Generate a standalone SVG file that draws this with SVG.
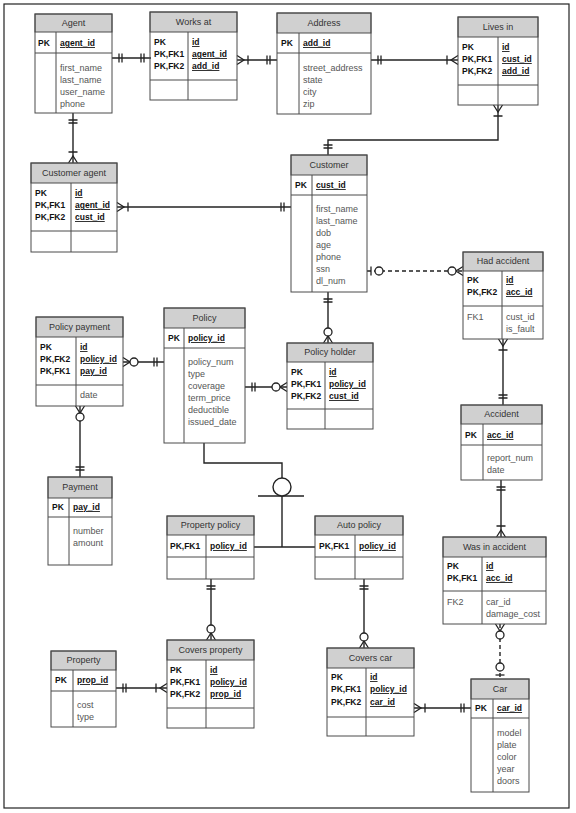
<svg xmlns="http://www.w3.org/2000/svg" width="576" height="813" viewBox="0 0 576 813">
<style>
.hd{fill:#d0d0d0;stroke:#4a4a4a;stroke-width:1}
.bx{fill:none;stroke:#4a4a4a;stroke-width:1}
.ln{fill:none;stroke:#4a4a4a;stroke-width:1}
text{font-family:"Liberation Sans",Arial,sans-serif}
.h{font-size:9px;fill:#333;text-anchor:middle}
.k{font-size:8.5px;font-weight:bold;fill:#111}
.ku{font-size:8.5px;font-weight:bold;fill:#111;text-decoration:underline}
.f{font-size:9px;fill:#555}
.c{fill:none;stroke:#222;stroke-width:1.4}
.d{stroke-dasharray:4 3}
.mk{fill:none;stroke:#222;stroke-width:1.3;stroke-dasharray:none}
.mc{fill:#fff;stroke:#222;stroke-width:1.3;stroke-dasharray:none}
</style>
<defs>
<marker id="oneOne" markerUnits="userSpaceOnUse" orient="auto-start-reverse" viewBox="-20 -10 20 20" refX="0" refY="0" markerWidth="20" markerHeight="20" overflow="visible">
<path class="mk" d="M-7,-4.5V4.5M-10,-4.5V4.5"/>
</marker>
<marker id="manyOne" markerUnits="userSpaceOnUse" orient="auto-start-reverse" viewBox="-20 -10 20 20" refX="0" refY="0" markerWidth="20" markerHeight="20" overflow="visible">
<path class="mk" d="M0,-4.5L-7,0L0,4.5M-11,-4.5V4.5"/>
</marker>
<marker id="manyZero" markerUnits="userSpaceOnUse" orient="auto-start-reverse" viewBox="-20 -10 20 20" refX="0" refY="0" markerWidth="20" markerHeight="20" overflow="visible">
<path class="mk" d="M0,-4.5L-7,0L0,4.5"/>
<circle class="mc" cx="-11" cy="0" r="4"/>
</marker>
<marker id="oneZero" markerUnits="userSpaceOnUse" orient="auto-start-reverse" viewBox="-20 -10 20 20" refX="0" refY="0" markerWidth="20" markerHeight="20" overflow="visible">
<path class="mk" d="M-4,-4.5V4.5"/>
<circle class="mc" cx="-12" cy="0" r="4"/>
</marker>
</defs>
<rect x="0" y="0" width="576" height="813" fill="#fff"/>
<rect x="4" y="4" width="565" height="804" fill="none" stroke="#222" stroke-width="1.2"/>

<g id="connectors">
<path class="c" d="M112,58H151" marker-start="url(#oneOne)" marker-end="url(#oneOne)"/>
<path class="c" d="M237,60H277" marker-start="url(#manyOne)" marker-end="url(#oneOne)"/>
<path class="c" d="M371,60H458" marker-start="url(#oneOne)" marker-end="url(#manyOne)"/>
<path class="c" d="M498,105V140H328V155" marker-start="url(#manyOne)" marker-end="url(#oneOne)"/>
<path class="c" d="M73,113V163" marker-start="url(#oneOne)" marker-end="url(#manyOne)"/>
<path class="c" d="M117,207H291" marker-start="url(#manyOne)" marker-end="url(#oneOne)"/>
<path class="c d" d="M367,271H463" marker-start="url(#oneZero)" marker-end="url(#manyZero)"/>
<path class="c" d="M328,292V343" marker-start="url(#oneOne)" marker-end="url(#manyZero)"/>
<path class="c" d="M245,387H287" marker-start="url(#oneOne)" marker-end="url(#manyZero)"/>
<path class="c" d="M123,362H164" marker-start="url(#manyZero)" marker-end="url(#oneOne)"/>
<path class="c" d="M80,406V477" marker-start="url(#manyZero)" marker-end="url(#oneOne)"/>
<path class="c" d="M503,339V405" marker-start="url(#manyOne)" marker-end="url(#oneOne)"/>
<path class="c" d="M501,480V537" marker-start="url(#oneOne)" marker-end="url(#manyOne)"/>
<path class="c d" d="M500,624V679" marker-start="url(#manyZero)" marker-end="url(#oneZero)"/>
<path class="c" d="M414,708H471" marker-start="url(#manyOne)" marker-end="url(#oneOne)"/>
<path class="c" d="M364,579V648" marker-start="url(#oneOne)" marker-end="url(#manyZero)"/>
<path class="c" d="M211,579V640" marker-start="url(#oneOne)" marker-end="url(#manyZero)"/>
<path class="c" d="M116,688H167" marker-start="url(#oneOne)" marker-end="url(#manyOne)"/>
<path class="c" d="M204,443V463H282V478M258,496H304M282,496V547M254,547H315"/>
<circle cx="282" cy="487" r="9" fill="#fff" stroke="#222" stroke-width="1.4"/>
</g>

<g id="agent">
<rect class="hd" x="35" y="14" width="77" height="18"/>
<rect class="bx" x="35" y="14" width="77" height="99"/>
<path class="ln" d="M35,53H112M56,32V113"/>
<text class="h" x="73.5" y="26">Agent</text>
<text class="k" x="38" y="46">PK</text>
<text class="ku" x="60" y="46">agent_id</text>
<text class="f" x="60" y="71">first_name</text>
<text class="f" x="60" y="83">last_name</text>
<text class="f" x="60" y="95">user_name</text>
<text class="f" x="60" y="107">phone</text>
</g>

<g id="works-at">
<rect class="hd" x="150" y="12" width="87" height="20"/>
<rect class="bx" x="150" y="12" width="87" height="88"/>
<path class="ln" d="M150,80H237M188,32V100"/>
<text class="h" x="193.5" y="25">Works at</text>
<text class="k" x="154" y="45">PK</text>
<text class="k" x="154" y="57">PK,FK1</text>
<text class="k" x="154" y="69">PK,FK2</text>
<text class="ku" x="192" y="45">id</text>
<text class="ku" x="192" y="57">agent_id</text>
<text class="ku" x="192" y="69">add_id</text>
</g>

<g id="address">
<rect class="hd" x="277" y="13" width="94" height="20"/>
<rect class="bx" x="277" y="13" width="94" height="101"/>
<path class="ln" d="M277,53H371M299,33V114"/>
<text class="h" x="324" y="26">Address</text>
<text class="k" x="281" y="46">PK</text>
<text class="ku" x="303" y="46">add_id</text>
<text class="f" x="303" y="71">street_address</text>
<text class="f" x="303" y="83">state</text>
<text class="f" x="303" y="95">city</text>
<text class="f" x="303" y="107">zip</text>
</g>

<g id="lives-in">
<rect class="hd" x="458" y="17" width="80" height="20"/>
<rect class="bx" x="458" y="17" width="80" height="88"/>
<path class="ln" d="M458,85H538M498,37V105"/>
<text class="h" x="498" y="30">Lives in</text>
<text class="k" x="462" y="50">PK</text>
<text class="k" x="462" y="62">PK,FK1</text>
<text class="k" x="462" y="74">PK,FK2</text>
<text class="ku" x="502" y="50">id</text>
<text class="ku" x="502" y="62">cust_id</text>
<text class="ku" x="502" y="74">add_id</text>
</g>

<g id="customer-agent">
<rect class="hd" x="31" y="163" width="86" height="20"/>
<rect class="bx" x="31" y="163" width="86" height="89"/>
<path class="ln" d="M31,231H117M71,183V252"/>
<text class="h" x="74" y="176">Customer agent</text>
<text class="k" x="35" y="196">PK</text>
<text class="k" x="35" y="208">PK,FK1</text>
<text class="k" x="35" y="220">PK,FK2</text>
<text class="ku" x="75" y="196">id</text>
<text class="ku" x="75" y="208">agent_id</text>
<text class="ku" x="75" y="220">cust_id</text>
</g>

<g id="customer">
<rect class="hd" x="291" y="155" width="76" height="20"/>
<rect class="bx" x="291" y="155" width="76" height="137"/>
<path class="ln" d="M291,195H367M312,175V292"/>
<text class="h" x="329" y="168">Customer</text>
<text class="k" x="295" y="188">PK</text>
<text class="ku" x="316" y="188">cust_id</text>
<text class="f" x="316" y="212">first_name</text>
<text class="f" x="316" y="224">last_name</text>
<text class="f" x="316" y="236">dob</text>
<text class="f" x="316" y="248">age</text>
<text class="f" x="316" y="260">phone</text>
<text class="f" x="316" y="272">ssn</text>
<text class="f" x="316" y="284">dl_num</text>
</g>

<g id="had-accident">
<rect class="hd" x="463" y="252" width="80" height="19"/>
<rect class="bx" x="463" y="252" width="80" height="87"/>
<path class="ln" d="M463,306H543M502,271V339"/>
<text class="h" x="503" y="264">Had accident</text>
<text class="k" x="467" y="283">PK</text>
<text class="k" x="467" y="295">PK,FK2</text>
<text class="ku" x="506" y="283">id</text>
<text class="ku" x="506" y="295">acc_id</text>
<text class="f" x="467" y="320">FK1</text>
<text class="f" x="506" y="320">cust_id</text>
<text class="f" x="506" y="332">is_fault</text>
</g>

<g id="policy-payment">
<rect class="hd" x="36" y="317" width="87" height="20"/>
<rect class="bx" x="36" y="317" width="87" height="89"/>
<path class="ln" d="M36,385H123M76,337V406"/>
<text class="h" x="79.5" y="330">Policy payment</text>
<text class="k" x="40" y="350">PK</text>
<text class="k" x="40" y="362">PK,FK2</text>
<text class="k" x="40" y="374">PK,FK1</text>
<text class="ku" x="80" y="350">id</text>
<text class="ku" x="80" y="362">policy_id</text>
<text class="ku" x="80" y="374">pay_id</text>
<text class="f" x="80" y="398">date</text>
</g>

<g id="policy">
<rect class="hd" x="164" y="308" width="81" height="20"/>
<rect class="bx" x="164" y="308" width="81" height="135"/>
<path class="ln" d="M164,348H245M184,328V443"/>
<text class="h" x="204.5" y="321">Policy</text>
<text class="k" x="168" y="341">PK</text>
<text class="ku" x="188" y="341">policy_id</text>
<text class="f" x="188" y="365">policy_num</text>
<text class="f" x="188" y="377">type</text>
<text class="f" x="188" y="389">coverage</text>
<text class="f" x="188" y="401">term_price</text>
<text class="f" x="188" y="413">deductible</text>
<text class="f" x="188" y="425">issued_date</text>
</g>

<g id="policy-holder">
<rect class="hd" x="287" y="343" width="86" height="19"/>
<rect class="bx" x="287" y="343" width="86" height="86"/>
<path class="ln" d="M287,409H373M325,362V429"/>
<text class="h" x="330" y="355">Policy holder</text>
<text class="k" x="291" y="375">PK</text>
<text class="k" x="291" y="387">PK,FK1</text>
<text class="k" x="291" y="399">PK,FK2</text>
<text class="ku" x="329" y="375">id</text>
<text class="ku" x="329" y="387">policy_id</text>
<text class="ku" x="329" y="399">cust_id</text>
</g>

<g id="payment">
<rect class="hd" x="48" y="477" width="64" height="21"/>
<rect class="bx" x="48" y="477" width="64" height="88"/>
<path class="ln" d="M48,517H112M69,498V565"/>
<text class="h" x="80" y="490">Payment</text>
<text class="k" x="52" y="510">PK</text>
<text class="ku" x="73" y="510">pay_id</text>
<text class="f" x="73" y="534">number</text>
<text class="f" x="73" y="546">amount</text>
</g>

<g id="accident">
<rect class="hd" x="461" y="405" width="81" height="19"/>
<rect class="bx" x="461" y="405" width="81" height="75"/>
<path class="ln" d="M461,445H542M483,424V480"/>
<text class="h" x="501.5" y="417">Accident</text>
<text class="k" x="465" y="438">PK</text>
<text class="ku" x="487" y="438">acc_id</text>
<text class="f" x="487" y="461">report_num</text>
<text class="f" x="487" y="473">date</text>
</g>

<g id="property-policy">
<rect class="hd" x="167" y="516" width="87" height="19"/>
<rect class="bx" x="167" y="516" width="87" height="63"/>
<path class="ln" d="M167,557H254M206,535V579"/>
<text class="h" x="210.5" y="528">Property policy</text>
<text class="k" x="170" y="549">PK,FK1</text>
<text class="ku" x="210" y="549">policy_id</text>
</g>

<g id="auto-policy">
<rect class="hd" x="315" y="516" width="88" height="19"/>
<rect class="bx" x="315" y="516" width="88" height="63"/>
<path class="ln" d="M315,557H403M355,535V579"/>
<text class="h" x="359" y="528">Auto policy</text>
<text class="k" x="319" y="549">PK,FK1</text>
<text class="ku" x="359" y="549">policy_id</text>
</g>

<g id="was-in-accident">
<rect class="hd" x="443" y="537" width="103" height="20"/>
<rect class="bx" x="443" y="537" width="103" height="87"/>
<path class="ln" d="M443,591H546M482,557V624"/>
<text class="h" x="494.5" y="550">Was in accident</text>
<text class="k" x="447" y="569">PK</text>
<text class="k" x="447" y="581">PK,FK1</text>
<text class="ku" x="486" y="569">id</text>
<text class="ku" x="486" y="581">acc_id</text>
<text class="f" x="447" y="605">FK2</text>
<text class="f" x="486" y="605">car_id</text>
<text class="f" x="486" y="617">damage_cost</text>
</g>

<g id="covers-property">
<rect class="hd" x="167" y="640" width="87" height="20"/>
<rect class="bx" x="167" y="640" width="87" height="88"/>
<path class="ln" d="M167,708H254M206,660V728"/>
<text class="h" x="210.5" y="653">Covers property</text>
<text class="k" x="170" y="673">PK</text>
<text class="k" x="170" y="685">PK,FK1</text>
<text class="k" x="170" y="697">PK,FK2</text>
<text class="ku" x="210" y="673">id</text>
<text class="ku" x="210" y="685">policy_id</text>
<text class="ku" x="210" y="697">prop_id</text>
</g>

<g id="property">
<rect class="hd" x="51" y="651" width="65" height="19"/>
<rect class="bx" x="51" y="651" width="65" height="76"/>
<path class="ln" d="M51,691H116M73,670V727"/>
<text class="h" x="83.5" y="663">Property</text>
<text class="k" x="55" y="683">PK</text>
<text class="ku" x="77" y="683">prop_id</text>
<text class="f" x="77" y="708">cost</text>
<text class="f" x="77" y="720">type</text>
</g>

<g id="covers-car">
<rect class="hd" x="327" y="648" width="87" height="20"/>
<rect class="bx" x="327" y="648" width="87" height="88"/>
<path class="ln" d="M327,717H414M366,668V736"/>
<text class="h" x="370.5" y="661">Covers car</text>
<text class="k" x="331" y="680">PK</text>
<text class="k" x="331" y="692">PK,FK1</text>
<text class="k" x="331" y="705">PK,FK2</text>
<text class="ku" x="370" y="680">id</text>
<text class="ku" x="370" y="692">policy_id</text>
<text class="ku" x="370" y="705">car_id</text>
</g>

<g id="car">
<rect class="hd" x="471" y="679" width="58" height="20"/>
<rect class="bx" x="471" y="679" width="58" height="113"/>
<path class="ln" d="M471,718H529M493,699V792"/>
<text class="h" x="500" y="692">Car</text>
<text class="k" x="475" y="711">PK</text>
<text class="ku" x="497" y="711">car_id</text>
<text class="f" x="497" y="736">model</text>
<text class="f" x="497" y="748">plate</text>
<text class="f" x="497" y="760">color</text>
<text class="f" x="497" y="772">year</text>
<text class="f" x="497" y="784">doors</text>
</g>
</svg>
